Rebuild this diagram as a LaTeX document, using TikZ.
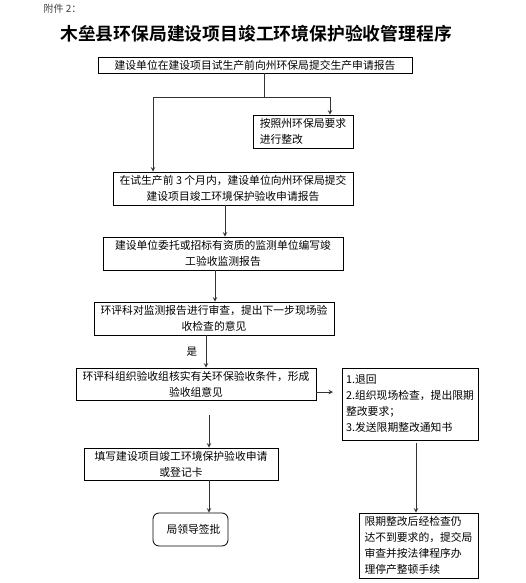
\documentclass[tikz,border=0pt]{standalone}
\usepackage{fontspec}
\setmainfont{Noto Sans CJK SC}[BoldFont={Noto Sans CJK SC Bold}]
\usepackage{tikz}
\usetikzlibrary{shapes,arrows,positioning,calc}

\begin{document}
\begin{tikzpicture}[
    x=1pt, y=-1pt,
    stepbox/.style={rectangle, draw, line width=0.8pt, inner xsep=3pt, inner ysep=0pt, align=center, font=\fontsize{10.8}{16}\selectfont},
    leftbox/.style={stepbox, align=left},
    arrow/.style={->, >=stealth, line width=1pt, draw=black!80, font=\fontsize{10.5}{12}\selectfont},
    link/.style={line width=1pt, draw=black!80}
]
\useasboundingbox (0,0) rectangle (526,583);
\node[anchor=west, font=\fontsize{10}{12}\selectfont, text=black!75] (annex) at (40,9) {附件 2：};
\node[font=\bfseries\fontsize{17.8}{20}\selectfont] (title) at (256,34) {木垒县环保局建设项目竣工环境保护验收管理程序};
\node[stepbox, minimum width=314pt, minimum height=16pt] (apply) at (255,65) {建设单位在建设项目试生产前向州环保局提交生产申请报告};
\node[leftbox, minimum width=100pt, minimum height=33pt] (rectify) at (303,131.5) {按照州环保局要求\\进行整改};
\node[stepbox, minimum width=240pt, minimum height=33pt] (request) at (233,188.5) {在试生产前 3 个月内，建设单位向州环保局提交\\建设项目竣工环境保护验收申请报告};
\node[stepbox, minimum width=240pt, minimum height=33pt] (monitor) at (223,253.5) {建设单位委托或招标有资质的监测单位编写竣\\工验收监测报告};
\node[stepbox, minimum width=240pt, minimum height=33pt] (review) at (214,318.5) {环评科对监测报告进行审查，提出下一步现场验\\收检查的意见};
\node[stepbox, minimum width=240pt, minimum height=32pt] (inspect) at (196,384) {环评科组织验收组核实有关环保验收条件，形成\\验收组意见};
\node[leftbox, minimum width=136pt, minimum height=72pt] (measures) at (410,404) {1.退回\\2.组织现场检查，提出限期\\整改要求；\\3.发送限期整改通知书};
\node[stepbox, minimum width=194pt, minimum height=32pt] (register) at (181,464) {填写建设项目竣工环境保护验收申请\\或登记卡};
\node[stepbox, rounded corners=6pt, minimum width=75pt, minimum height=33pt] (approve) at (190.5,529.5) {\hspace{6pt}局领导签批};
\node[leftbox, minimum width=119pt, minimum height=65pt] (suspend) at (418.5,545.5) {限期整改后经检查仍\\达不到要求的，提交局\\审查并按法律程序办\\理停产整顿手续};
\coordinate (split) at (264,98);
\coordinate (splitL) at (153,98);
\coordinate (splitR) at (330,98);
\coordinate (measin) at (333,392);
\coordinate (regtop) at (209,415);
\coordinate (suspin) at (416,443);
\draw[link] (split |- apply.south) -- (split);
\draw[arrow] (splitL) -- (splitR) -- (splitR |- rectify.north);
\draw[arrow] (splitL) -- (splitL |- request.north);
\draw[arrow] ([xshift=-8pt]request.south) -- ([xshift=-8pt]request.south |- monitor.north);
\draw[arrow] ([xshift=-8pt]monitor.south) -- ([xshift=-8pt]monitor.south |- review.north);
\draw[arrow] ([xshift=-8pt]review.south) -- ([xshift=-8pt]review.south |- inspect.north) node[midway, left=5pt, text=black] {是};
\draw[arrow] ([yshift=-8pt]inspect.east) -- (measin);
\draw[arrow] (regtop) -- (regtop |- register.north);
\draw[arrow] (regtop |- register.south) -- (regtop |- approve.north);
\draw[arrow] (suspin) -- (suspin |- suspend.north);
\end{tikzpicture}
\end{document}
